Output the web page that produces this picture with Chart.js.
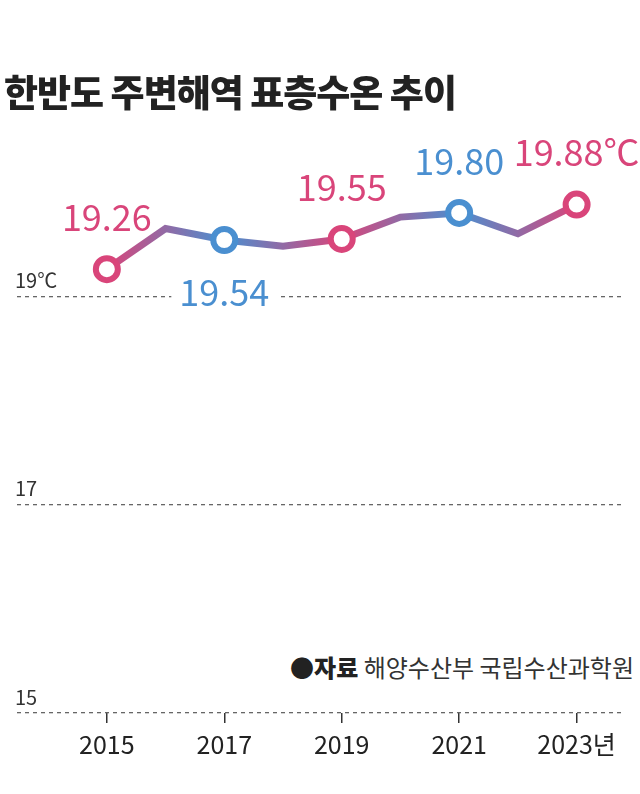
<!DOCTYPE html>
<html><head><meta charset="utf-8">
<script src="https://cdn.jsdelivr.net/npm/chart.js@4"></script>
<style>
body{margin:0;width:640px;height:794px;background:#fff;font-family:"Noto Sans CJK KR","Noto Sans",sans-serif;position:relative;overflow:hidden}
#t{position:absolute;left:4px;top:64px;font-size:37px;font-weight:900;color:#222;letter-spacing:-1px}
#s{position:absolute;right:6px;top:649px;font-size:24px;color:#333;background:#fff;padding-left:6px}
#c{position:absolute;left:0;top:0}
</style></head><body>
<canvas id="c" width="640" height="794"></canvas>
<div id="t">한반도 주변해역 표층수온 추이</div>
<div id="s"><b style="font-weight:900;color:#222">●자료</b> 해양수산부 국립수산과학원</div>
<script>
const years=[2015,2016,2017,2018,2019,2020,2021,2022,2023];
const temps=[19.26,19.65,19.54,19.48,19.55,19.76,19.80,19.60,19.88];
const labels=["19.26","","19.54","","19.55","","19.80","","19.88℃"];
const labelPos=[-1,0,1,0,-1,0,-1,0,-1];
const xTicks=[2015,2017,2019,2021,2023];
const yTicks=[15,17,19];
const PINK="#d9457a",BLUE="#4a8fd0";
const ptColor=[PINK,null,BLUE,null,PINK,null,BLUE,null,PINK];
const grad=(ctx)=>{const c=ctx.chart;const a=c.chartArea;if(!a)return PINK;const xs=c.scales.x;
 const g=c.ctx.createLinearGradient(a.left,0,a.right,0);
 xTicks.forEach((y,i)=>{const p=(xs.getPixelForValue(y)-a.left)/(a.right-a.left);g.addColorStop(Math.min(1,Math.max(0,p)),i%2?BLUE:PINK);});return g;};
const lab={id:'lab',afterDatasetsDraw(c){const x=c.ctx,m=c.getDatasetMeta(0);x.save();x.font='36px "Noto Sans CJK KR"';x.textAlign='center';x.textBaseline='middle';
 m.data.forEach((p,i)=>{if(!labels[i])return;const y=p.y+labelPos[i]*52;const w=x.measureText(labels[i]).width;
 if(labelPos[i]>0){x.fillStyle='#fff';x.fillRect(p.x-w/2-8,y-18,w+16,36);}
 x.fillStyle=ptColor[i];x.fillText(labels[i],p.x,y);});x.restore();}};
new Chart(document.getElementById('c'),{type:'line',
data:{datasets:[{data:years.map((y,i)=>({x:y,y:temps[i]})),borderColor:grad,borderWidth:7,tension:0,
 pointRadius:(c)=>ptColor[c.dataIndex]?11:0,pointBorderWidth:6,pointBackgroundColor:'#fff',
 pointBorderColor:(c)=>ptColor[c.dataIndex]||PINK}]},
options:{responsive:false,animation:false,layout:{padding:{top:140,left:-16,right:-18}},
 plugins:{legend:{display:false},tooltip:{enabled:false}},
 scales:{
  x:{type:'linear',min:2013.47,max:2023.79,afterBuildTicks:s=>{s.ticks=xTicks.map(v=>({value:v}));},
   afterFit:s=>{s.height=81;},border:{display:false},
   grid:{drawOnChartArea:false,drawTicks:true,tickLength:10,color:'#333',lineWidth:1.5},
   ticks:{padding:6,color:'#222',font:{size:25,family:'Noto Sans CJK KR'},callback:v=>v===2023?'2023년':String(v)}},
  y:{min:15,max:20.5,afterBuildTicks:s=>{s.ticks=yTicks.map(v=>({value:v}));},afterFit:s=>{s.width=0;},
   border:{display:false,dash:[4,4]},grid:{color:'#666',lineWidth:1.3,drawTicks:false},
   ticks:{mirror:true,padding:-2,labelOffset:-16,color:'#333',font:{size:20,family:'Noto Sans CJK KR'},callback:v=>v===19?'19℃':String(v)}}
 }},plugins:[lab]});
</script></body></html>
